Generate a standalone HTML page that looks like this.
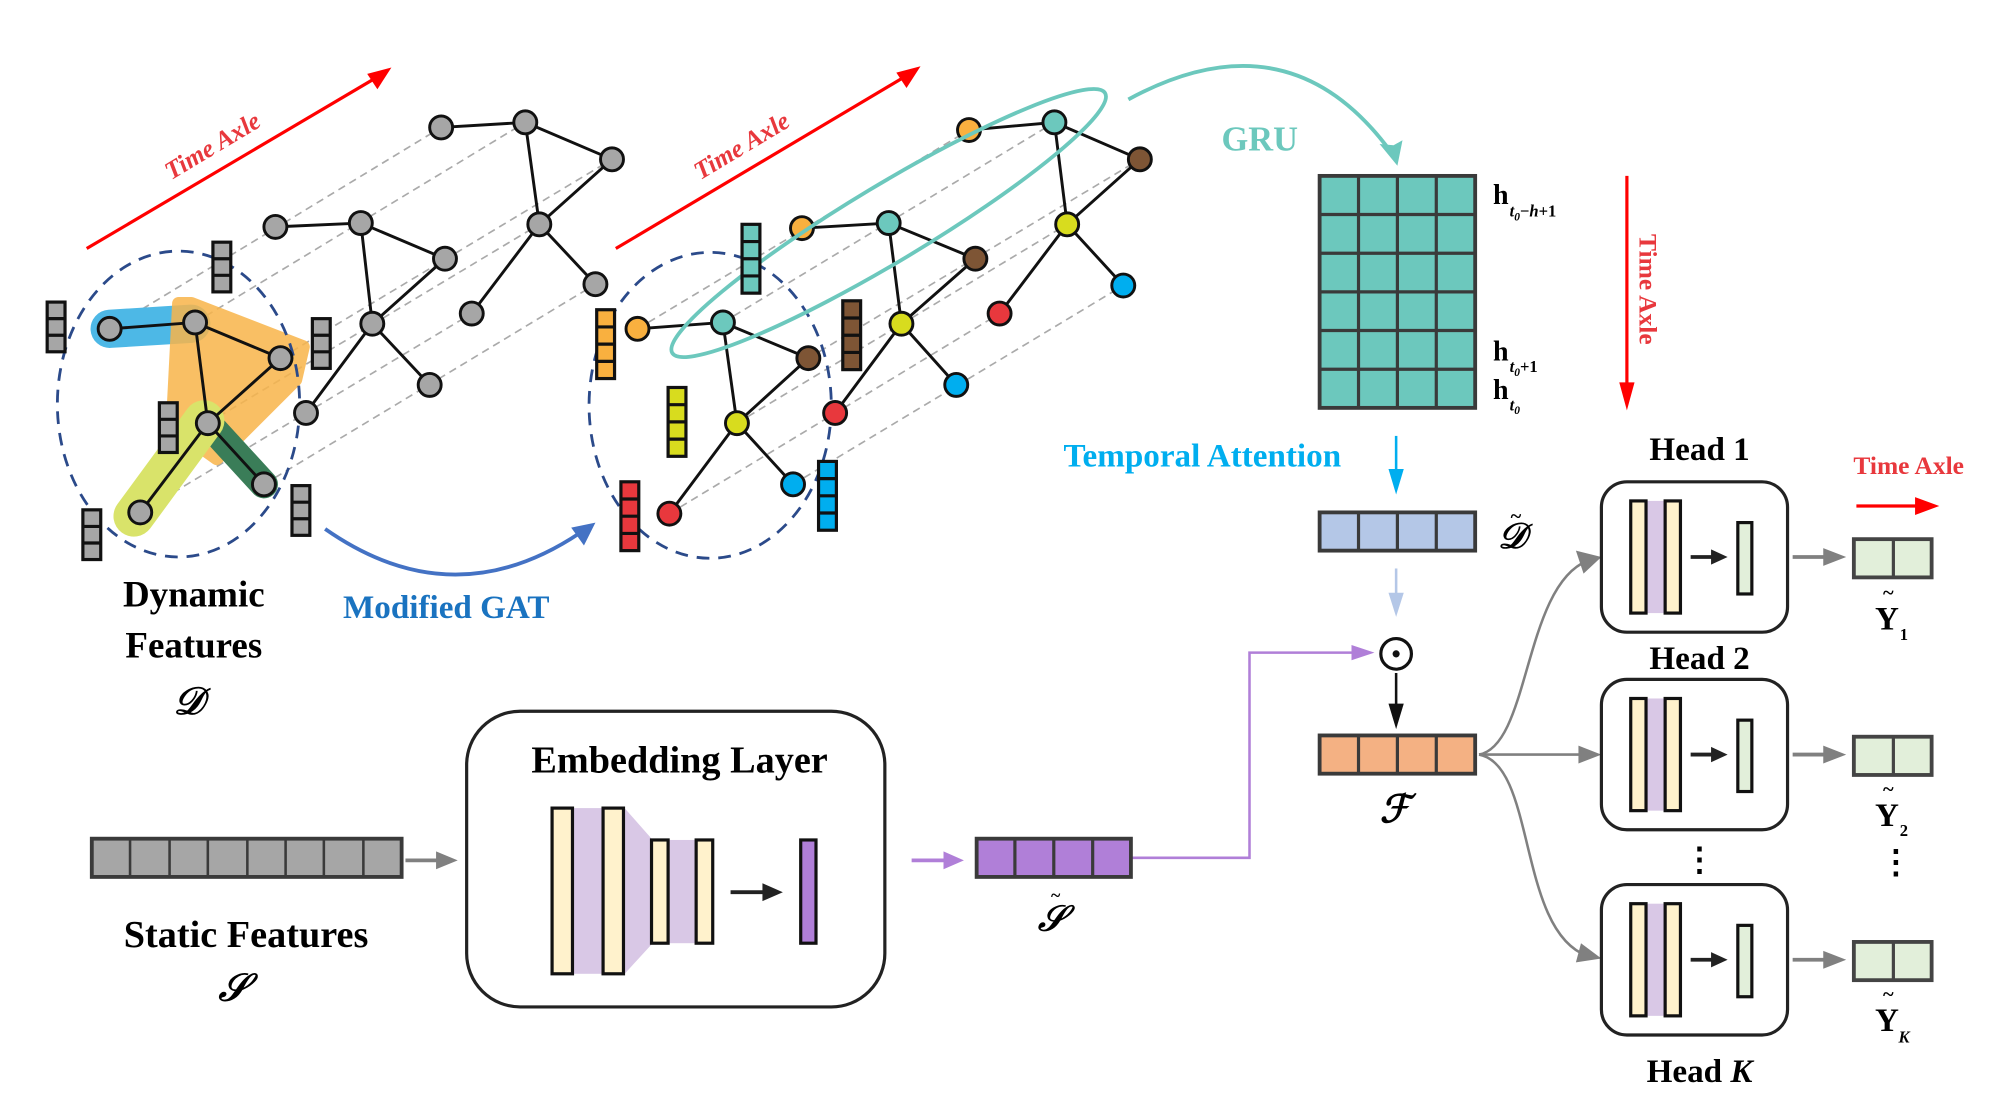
<!DOCTYPE html>
<html><head><meta charset="utf-8"><style>
html,body{margin:0;padding:0;background:#fff;}
svg{display:block;font-family:"Liberation Serif",serif;}
text{font-family:"Liberation Serif",serif;font-weight:bold;}
</style></head><body>
<svg width="1989" height="1114" viewBox="0 0 1560 874" preserveAspectRatio="none" xmlns="http://www.w3.org/2000/svg" font-family="Liberation Serif, serif">

<!-- Time axles -->
<line x1="68" y1="195" x2="300" y2="58" stroke="#f00" stroke-width="2.5"/>
<path d="M307,53 L288,58 L296,70z" fill="#f00"/>
<text x="170" y="120" fill="#e8383d" font-size="20" font-style="italic" text-anchor="middle" transform="rotate(-31 170 120)">Time Axle</text>
<line x1="483" y1="195" x2="715" y2="57" stroke="#f00" stroke-width="2.5"/>
<path d="M722,52 L703,57 L711,69z" fill="#f00"/>
<text x="585" y="120" fill="#e8383d" font-size="20" font-style="italic" text-anchor="middle" transform="rotate(-31 585 120)">Time Axle</text>

<!-- dashed connectors -->
<g stroke="#aaa" stroke-width="1.3" stroke-dasharray="6,4">
<line x1="86" y1="258" x2="346" y2="100"/><line x1="153" y1="253" x2="412" y2="96"/><line x1="220" y1="281" x2="480" y2="125"/><line x1="163" y1="332" x2="423" y2="176"/><line x1="110" y1="402" x2="370" y2="246"/><line x1="207" y1="380" x2="467" y2="223"/>
<line x1="500" y1="258" x2="760" y2="102"/><line x1="567" y1="253" x2="827" y2="96"/><line x1="634" y1="281" x2="894" y2="125"/><line x1="578" y1="332" x2="837" y2="176"/><line x1="525" y1="403" x2="784" y2="246"/><line x1="622" y1="380" x2="881" y2="224"/>
</g>

<!-- highlights -->
<line x1="86" y1="258" x2="150" y2="254" stroke="#4db8e6" stroke-width="30" stroke-linecap="round"/>
<path d="M140,238 L150,238 L238,272 L232,298 L170,360 L135,335 Z" fill="#f9b54a" opacity="0.85" stroke="#f9b54a" stroke-width="10" stroke-linejoin="round"/>
<line x1="163" y1="332" x2="207" y2="380" stroke="#3a7d58" stroke-width="22" stroke-linecap="round"/>
<line x1="160" y1="330" x2="105" y2="405" stroke="#d9e36a" stroke-width="32" stroke-linecap="round"/>

<!-- dashed circles -->
<ellipse cx="140" cy="317" rx="95" ry="120" fill="none" stroke="#2b4a8a" stroke-width="2.2" stroke-dasharray="10,7"/>
<ellipse cx="557" cy="318" rx="95" ry="120" fill="none" stroke="#2b4a8a" stroke-width="2.2" stroke-dasharray="10,7"/>

<!-- graph edges -->
<g stroke="#111" stroke-width="2.3" fill="none">
<path d="M346,100 L412,96 L480,125 M412,96 L423,176 L480,125 M423,176 L370,246 M423,176 L467,223"/>
<path d="M216,178 L283,175 L349,203 M283,175 L292,254 L349,203 M292,254 L240,324 M292,254 L337,302"/>
<path d="M86,258 L153,253 L220,281 M153,253 L163,332 L220,281 M163,332 L110,402 M163,332 L207,380"/>
<path d="M760,102 L827,96 L894,125 M827,96 L837,176 L894,125 M837,176 L784,246 M837,176 L881,224"/>
<path d="M629,179 L697,175 L765,203 M697,175 L707,254 L765,203 M707,254 L655,324 M707,254 L750,302"/>
<path d="M500,258 L567,253 L634,281 M567,253 L578,332 L634,281 M578,332 L525,403 M578,332 L622,380"/>
</g>
<!-- gray nodes -->
<g fill="#a6a6a6" stroke="#111" stroke-width="2.3">
<circle cx="346" cy="100" r="9"/><circle cx="412" cy="96" r="9"/><circle cx="480" cy="125" r="9"/><circle cx="423" cy="176" r="9"/><circle cx="370" cy="246" r="9"/><circle cx="467" cy="223" r="9"/>
<circle cx="216" cy="178" r="9"/><circle cx="283" cy="175" r="9"/><circle cx="349" cy="203" r="9"/><circle cx="292" cy="254" r="9"/><circle cx="240" cy="324" r="9"/><circle cx="337" cy="302" r="9"/>
<circle cx="86" cy="258" r="9"/><circle cx="153" cy="253" r="9"/><circle cx="220" cy="281" r="9"/><circle cx="163" cy="332" r="9"/><circle cx="110" cy="402" r="9"/><circle cx="207" cy="380" r="9"/>
</g>
<!-- colored nodes -->
<g stroke="#111" stroke-width="2.3">
<circle cx="760" cy="102" r="9" fill="#f9b03f"/><circle cx="827" cy="96" r="9" fill="#6cc8bd"/><circle cx="894" cy="125" r="9" fill="#7e5535"/><circle cx="837" cy="176" r="9" fill="#d8dc1e"/><circle cx="784" cy="246" r="9" fill="#e8383d"/><circle cx="881" cy="224" r="9" fill="#00aeef"/>
<circle cx="629" cy="179" r="9" fill="#f9b03f"/><circle cx="697" cy="175" r="9" fill="#6cc8bd"/><circle cx="765" cy="203" r="9" fill="#7e5535"/><circle cx="707" cy="254" r="9" fill="#d8dc1e"/><circle cx="655" cy="324" r="9" fill="#e8383d"/><circle cx="750" cy="302" r="9" fill="#00aeef"/>
<circle cx="500" cy="258" r="9" fill="#f9b03f"/><circle cx="567" cy="253" r="9" fill="#6cc8bd"/><circle cx="634" cy="281" r="9" fill="#7e5535"/><circle cx="578" cy="332" r="9" fill="#d8dc1e"/><circle cx="525" cy="403" r="9" fill="#e8383d"/><circle cx="622" cy="380" r="9" fill="#00aeef"/>
</g>
<ellipse cx="697" cy="175" rx="198" ry="30" fill="none" stroke="#6cc8bd" stroke-width="3" transform="rotate(-31 697 175)"/>

<!-- feature vectors gray -->
<g fill="#a6a6a6" stroke="#111" stroke-width="2.5">
<rect x="37" y="237" width="14" height="39"/><line x1="37" y1="250" x2="51" y2="250"/><line x1="37" y1="263" x2="51" y2="263"/>
<rect x="167" y="190" width="14" height="39"/><line x1="167" y1="203" x2="181" y2="203"/><line x1="167" y1="216" x2="181" y2="216"/>
<rect x="245" y="250" width="14" height="39"/><line x1="245" y1="263" x2="259" y2="263"/><line x1="245" y1="276" x2="259" y2="276"/>
<rect x="125" y="316" width="14" height="39"/><line x1="125" y1="329" x2="139" y2="329"/><line x1="125" y1="342" x2="139" y2="342"/>
<rect x="65" y="400" width="14" height="39"/><line x1="65" y1="413" x2="79" y2="413"/><line x1="65" y1="426" x2="79" y2="426"/>
<rect x="229" y="381" width="14" height="39"/><line x1="229" y1="394" x2="243" y2="394"/><line x1="229" y1="407" x2="243" y2="407"/>
</g>
<g stroke="#111" stroke-width="2.5">
<rect x="468" y="243" width="14" height="54" fill="#f9b03f"/><path d="M468,256.5h14M468,270h14M468,283.5h14"/>
<rect x="582" y="176" width="14" height="54" fill="#6cc8bd"/><path d="M582,189.5h14M582,203h14M582,216.5h14"/>
<rect x="661" y="236" width="14" height="54" fill="#7e5535"/><path d="M661,249.5h14M661,263h14M661,276.5h14"/>
<rect x="524" y="304" width="14" height="54" fill="#d8dc1e"/><path d="M524,317.5h14M524,331h14M524,344.5h14"/>
<rect x="487" y="378" width="14" height="54" fill="#e8383d"/><path d="M487,391.5h14M487,405h14M487,418.5h14"/>
<rect x="642" y="362" width="14" height="54" fill="#00aeef"/><path d="M642,375.5h14M642,389h14M642,402.5h14"/>
</g>

<!-- Modified GAT arrow -->
<path d="M255,415 Q355,485 455,418" fill="none" stroke="#4472c4" stroke-width="3"/>
<path d="M467,410 L448,414 L458,428z" fill="#4472c4"/>
<text x="350" y="485" fill="#1a73c0" font-size="26" text-anchor="middle">Modified GAT</text>

<text x="152" y="476" font-size="29" text-anchor="middle">Dynamic</text>
<text x="152" y="516" font-size="29" text-anchor="middle">Features</text>
<text x="148" y="560" font-size="30" font-style="italic" font-weight="normal" text-anchor="middle">𝒟</text>

<!-- GRU -->
<path d="M885,78 Q1010,10 1090,118" fill="none" stroke="#6cc8bd" stroke-width="3"/>
<path d="M1096,130 L1082,113 L1093,114 L1100,110z" fill="#6cc8bd"/>
<text x="988" y="118" fill="#6cc8bd" font-size="27" text-anchor="middle">GRU</text>

<rect x="1035" y="138" width="122" height="182" fill="#6cc8bd" stroke="#3a3a3a" stroke-width="3"/>
<path d="M1065.5,138v182M1096,138v182M1126.5,138v182M1035,168.3h122M1035,198.7h122M1035,229h122M1035,259.3h122M1035,289.7h122" stroke="#3a3a3a" stroke-width="2.5" fill="none"/>
<text x="1171" y="160" font-size="22">h</text><text x="1184" y="170" font-size="13" font-style="italic" font-weight="normal">t<tspan font-size="9" dy="3">0</tspan><tspan dy="-3" font-style="normal">−</tspan>h<tspan font-style="normal">+1</tspan></text>
<text x="1171" y="283" font-size="22">h</text><text x="1184" y="292" font-size="13" font-style="italic" font-weight="normal">t<tspan font-size="9" dy="3">0</tspan><tspan dy="-3" font-style="normal">+1</tspan></text>
<text x="1171" y="313" font-size="22">h</text><text x="1184" y="322" font-size="13" font-style="italic" font-weight="normal">t<tspan font-size="9" dy="3">0</tspan></text>

<line x1="1276" y1="138" x2="1276" y2="304" stroke="#f00" stroke-width="2.5"/>
<path d="M1270,300 L1276,322 L1282,300z" fill="#f00"/>
<text x="1286" y="227" fill="#e8383d" font-size="20" text-anchor="middle" transform="rotate(90 1286 227)">Time Axle</text>

<text x="943" y="366" fill="#00aeef" font-size="26" text-anchor="middle">Temporal Attention</text>
<line x1="1095" y1="342" x2="1095" y2="372" stroke="#00aeef" stroke-width="2"/>
<path d="M1089,368 L1095,388 L1101,368z" fill="#00aeef"/>

<rect x="1035" y="402" width="122" height="30" fill="#b4c7e7" stroke="#3a3a3a" stroke-width="3"/>
<path d="M1065.5,402v30M1096,402v30M1126.5,402v30" stroke="#3a3a3a" stroke-width="2.5"/>
<text x="1186" y="430" font-size="28" font-style="italic" font-weight="normal" text-anchor="middle">𝒟</text>
<text x="1189" y="410" font-size="16" font-weight="normal" text-anchor="middle">~</text>
<line x1="1095" y1="446" x2="1095" y2="470" stroke="#b4c7e7" stroke-width="2"/>
<path d="M1089,465 L1095,484 L1101,465z" fill="#b4c7e7"/>

<circle cx="1095" cy="513" r="12" fill="#fff" stroke="#111" stroke-width="2.5"/>
<circle cx="1095" cy="513" r="2.8" fill="#111"/>
<line x1="1095" y1="528" x2="1095" y2="555" stroke="#111" stroke-width="2"/>
<path d="M1089,552 L1095,572 L1101,552z" fill="#111"/>

<rect x="1035" y="577" width="122" height="30" fill="#f4b183" stroke="#3a3a3a" stroke-width="3"/>
<path d="M1065.5,577v30M1096,577v30M1126.5,577v30" stroke="#3a3a3a" stroke-width="2.5"/>
<text x="1094" y="645" font-size="30" font-style="italic" font-weight="normal" text-anchor="middle">ℱ</text>

<path d="M887,673 H980 V512 H1065" fill="none" stroke="#b07fd8" stroke-width="2"/>
<path d="M1060,506 L1078,512 L1060,518z" fill="#b07fd8"/>
<line x1="715" y1="675" x2="742" y2="675" stroke="#b07fd8" stroke-width="3"/>
<path d="M740,668 L756,675 L740,682z" fill="#b07fd8"/>

<rect x="766" y="658" width="121" height="30" fill="#b07fd8" stroke="#3a3a3a" stroke-width="3"/>
<path d="M796,658v30M826.5,658v30M857,658v30" stroke="#3a3a3a" stroke-width="2.5"/>
<text x="825" y="730" font-size="28" font-style="italic" font-weight="normal" text-anchor="middle">𝒮</text>
<text x="828" y="707" font-size="14" font-weight="normal" text-anchor="middle">~</text>

<rect x="72" y="658" width="243" height="30" fill="#a6a6a6" stroke="#3a3a3a" stroke-width="3"/>
<path d="M102,658v30M133,658v30M163,658v30M194,658v30M224,658v30M254,658v30M285,658v30" stroke="#3a3a3a" stroke-width="2"/>
<line x1="318" y1="675" x2="345" y2="675" stroke="#808080" stroke-width="3"/>
<path d="M342,668 L359,675 L342,682z" fill="#808080"/>
<text x="193" y="743" font-size="30" text-anchor="middle">Static Features</text>
<text x="183" y="785" font-size="30" font-style="italic" font-weight="normal" text-anchor="middle">𝒮</text>

<rect x="366" y="558" width="328" height="232" rx="42" fill="#fff" stroke="#222" stroke-width="2.5"/>
<text x="533" y="606" font-size="30" text-anchor="middle">Embedding Layer</text>
<path d="M489,633 L511,658 L511,741 L489,765z" fill="#d9c8e6"/>
<rect x="449" y="634" width="24" height="130" fill="#d9c8e6"/>
<rect x="524" y="659" width="22" height="81" fill="#d9c8e6"/>
<g stroke="#111" stroke-width="2.5" fill="#fff2cc">
<rect x="433" y="634" width="16" height="130"/><rect x="473" y="634" width="16" height="130"/>
<rect x="511" y="659" width="13" height="81"/><rect x="546" y="659" width="13" height="81"/>
<rect x="628" y="659" width="12" height="81" fill="#b07fd8"/>
</g>
<line x1="573" y1="700" x2="600" y2="700" stroke="#222" stroke-width="3"/>
<path d="M598,693 L614,700 L598,707z" fill="#222"/>

<g fill="none" stroke="#808080" stroke-width="2">
<path d="M1160,592 C1200,585 1195,460 1245,440"/>
<path d="M1160,592 L1242,592"/>
<path d="M1160,592 C1205,600 1190,730 1245,750"/>
</g>
<path d="M1236,432 L1256,437 L1242,450z" fill="#808080"/>
<path d="M1238,585 L1256,592 L1238,599z" fill="#808080"/>
<path d="M1240,740 L1256,752 L1236,755z" fill="#808080"/>

<g id="heads">
<rect x="1256" y="378" width="146" height="118" rx="20" fill="#fff" stroke="#222" stroke-width="2.5"/>
<rect x="1291" y="393" width="15" height="88" fill="#d9c8e6"/>
<rect x="1279" y="393" width="12" height="88" fill="#fff2cc" stroke="#111" stroke-width="2.5"/>
<rect x="1306" y="393" width="12" height="88" fill="#fff2cc" stroke="#111" stroke-width="2.5"/>
<line x1="1326" y1="437" x2="1344" y2="437" stroke="#222" stroke-width="3"/><path d="M1342,431 L1355,437 L1342,443z" fill="#222"/>
<rect x="1363" y="410" width="11" height="56" fill="#e2efda" stroke="#111" stroke-width="2.5"/>
<line x1="1406" y1="437" x2="1432" y2="437" stroke="#808080" stroke-width="3"/><path d="M1430,430 L1448,437 L1430,444z" fill="#808080"/>
<rect x="1454" y="423" width="61" height="30" fill="#e2efda" stroke="#444" stroke-width="3"/><line x1="1485" y1="423" x2="1485" y2="453" stroke="#444" stroke-width="2.5"/>
</g>
<use href="#heads" transform="translate(0,155)"/>
<use href="#heads" transform="translate(0,316)"/>

<text x="1333" y="361" font-size="26" text-anchor="middle">Head 1</text>
<text x="1333" y="525" font-size="26" text-anchor="middle">Head 2</text>
<text x="1333" y="849" font-size="26" text-anchor="middle">Head <tspan font-style="italic">K</tspan></text>
<text x="1333" y="683" font-size="26" text-anchor="middle">⋮</text>
<text x="1487" y="685" font-size="26" text-anchor="middle">⋮</text>

<text x="1480" y="494" font-size="26" text-anchor="middle">Y</text><text x="1481" y="470" font-size="16" font-weight="normal" text-anchor="middle">~</text><text x="1490" y="502" font-size="13" font-weight="normal">1</text>
<text x="1480" y="648" font-size="26" text-anchor="middle">Y</text><text x="1481" y="624" font-size="16" font-weight="normal" text-anchor="middle">~</text><text x="1490" y="656" font-size="13" font-weight="normal">2</text>
<text x="1480" y="809" font-size="26" text-anchor="middle">Y</text><text x="1481" y="785" font-size="16" font-weight="normal" text-anchor="middle">~</text><text x="1489" y="818" font-size="13" font-weight="normal" font-style="italic">K</text>

<text x="1497" y="372" fill="#e8383d" font-size="20" text-anchor="middle">Time Axle</text>
<line x1="1456" y1="397" x2="1505" y2="397" stroke="#f00" stroke-width="2.5"/>
<path d="M1502,390 L1521,397 L1502,404z" fill="#f00"/>
</svg>
</body></html>
